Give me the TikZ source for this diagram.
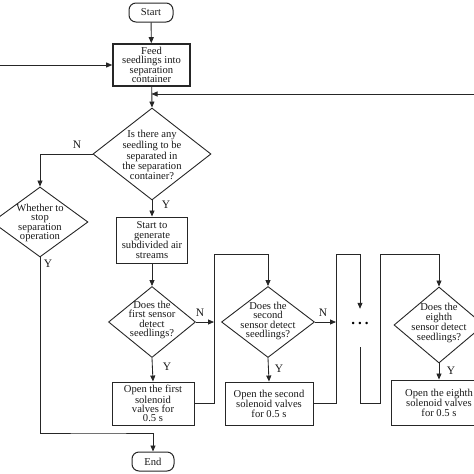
\documentclass[tikz,border=0pt]{standalone}
\usepackage{fontspec}
\setmainfont{Liberation Serif}
\usetikzlibrary{shapes.geometric,arrows.meta}
\begin{document}
\begin{tikzpicture}[x=1pt,y=-1pt,
  line/.style={draw=black!85, line width=0.85pt},
  arr/.style={line, -{Triangle[length=6pt,width=5pt]}},
  txt/.style={font=\fontsize{10.6}{9.4}\selectfont, align=center, text=black!90},
  box/.style={draw=black!85, line width=0.9pt, inner sep=0, txt},
  dia/.style={diamond, draw=black!85, line width=0.9pt, inner sep=0},
  term/.style={draw=black!85, rounded corners=7pt, line width=1pt, inner sep=0, txt},
  lab/.style={font=\fontsize{11.5}{11.5}\selectfont, inner sep=0, text=black!90}]
\useasboundingbox (0,0) rectangle (474,474);
\clip (0,0) rectangle (474,474);

% nodes
\node[term, minimum width=44pt, minimum height=19pt] (start) at (151,12.5) {Start};
\node[box, line width=1.6pt, minimum width=77pt, minimum height=42pt] (feed) at (151.5,65)
  {Feed\\seedlings into\\separation\\container};
\node[dia, minimum width=118pt, minimum height=92pt] (d1) at (152,154) {};
\node[txt, inner sep=0] (t1) at (152,155) {Is there any\\seedling to be\\separated in\\the separation\\container?};
\node[dia, minimum width=96pt, minimum height=70pt] (d2) at (40,222) {};
\node[txt, inner sep=0] (t2) at (40,223) {Whether to\\stop\\separation\\operation};
\node[box, minimum width=71pt, minimum height=46pt] (b3) at (152,240)
  {Start to\\generate\\subdivided air\\streams};
\node[dia, minimum width=87pt, minimum height=71pt] (d3) at (152,322) {};
\node[txt, inner sep=0] (t3) at (152,320) {Does the\\first sensor\\detect\\seedlings?};
\node[box, minimum width=82pt, minimum height=43pt] (b4) at (153,403.5)
  {Open the first\\solenoid\\valves for\\0.5 s};
\node[dia, minimum width=93pt, minimum height=71pt] (d4) at (268,322) {};
\node[txt, inner sep=0] (t4) at (268,321) {Does the\\second\\sensor detect\\seedlings?};
\node[box, minimum width=88pt, minimum height=43pt] (b5) at (269,403.5)
  {Open the second\\solenoid valves\\for 0.5 s};
\node[inner sep=0, minimum height=28pt, font=\fontsize{15}{15}\selectfont\bfseries] (dots) at (360,323)
  {.\hspace{3pt}.\hspace{3pt}.};
\node[dia, minimum width=90pt, minimum height=76pt] (d8) at (439,325) {};
\node[txt, inner sep=0] (t8) at (439,323) {Does the\\eighth\\sensor detect\\seedlings?};
\node[box, minimum width=96pt, minimum height=45pt] (b8) at (439,402.5)
  {Open the eighth\\solenoid valves\\for 0.5 s};
\node[term, minimum width=42pt, minimum height=19pt] (end) at (153,461.5) {End};

% helper coordinates
\coordinate (l1) at (-20,65);
\coordinate (r1) at (500,94);
\coordinate (e1) at (100,433);
\coordinate (j1) at (214,254);
\coordinate (j2) at (336,254);
\coordinate (dl) at (360,347);
\coordinate (c1) at (360,403);
\coordinate (j3) at (380,254);

% connectors
\draw[arr] (start) -- (feed);
\draw[arr] (feed) -- (d1.north);
\draw[arr] (d1.west) -| (d2.north);
\draw[arr] (d1.south) -- (b3.north);
\draw[arr] (b3) -- (d3.north);
\draw[arr] (d3.south) -- (b4.north);
\draw[arr] (d3.east) -- (d3.east -| j1);
\draw[arr] (b4.east) -| (j1) -| (d4.north);
\draw[arr] (d4.south) -- (b5.north);
\draw[arr] (d4.east) -- (d4.east -| j2);
\draw[arr] (b5.east) -| (j2) -| (dots.north);
\draw[arr] (dl) -- (c1) -| (j3) -| (d8.north);
\draw[arr] (d8.south) -- (b8.north);
\draw[arr] (d8.east) -| (r1) -- (feed.south |- r1);
\draw[arr] (d2.west) -| (l1) -- (feed.west);
\draw[arr] (d2.south) |- (e1) -| (end.north);

% labels
\node[lab] (n1) at (77,145) {N};
\node[lab] (y1) at (166,205) {Y};
\node[lab] (y2) at (48,264) {Y};
\node[lab] (n3) at (200,313) {N};
\node[lab] (y3) at (167,367) {Y};
\node[lab] (n4) at (323,313) {N};
\node[lab] (y4) at (279,369) {Y};
\node[lab] (y8) at (451,371) {Y};
\end{tikzpicture}
\end{document}
